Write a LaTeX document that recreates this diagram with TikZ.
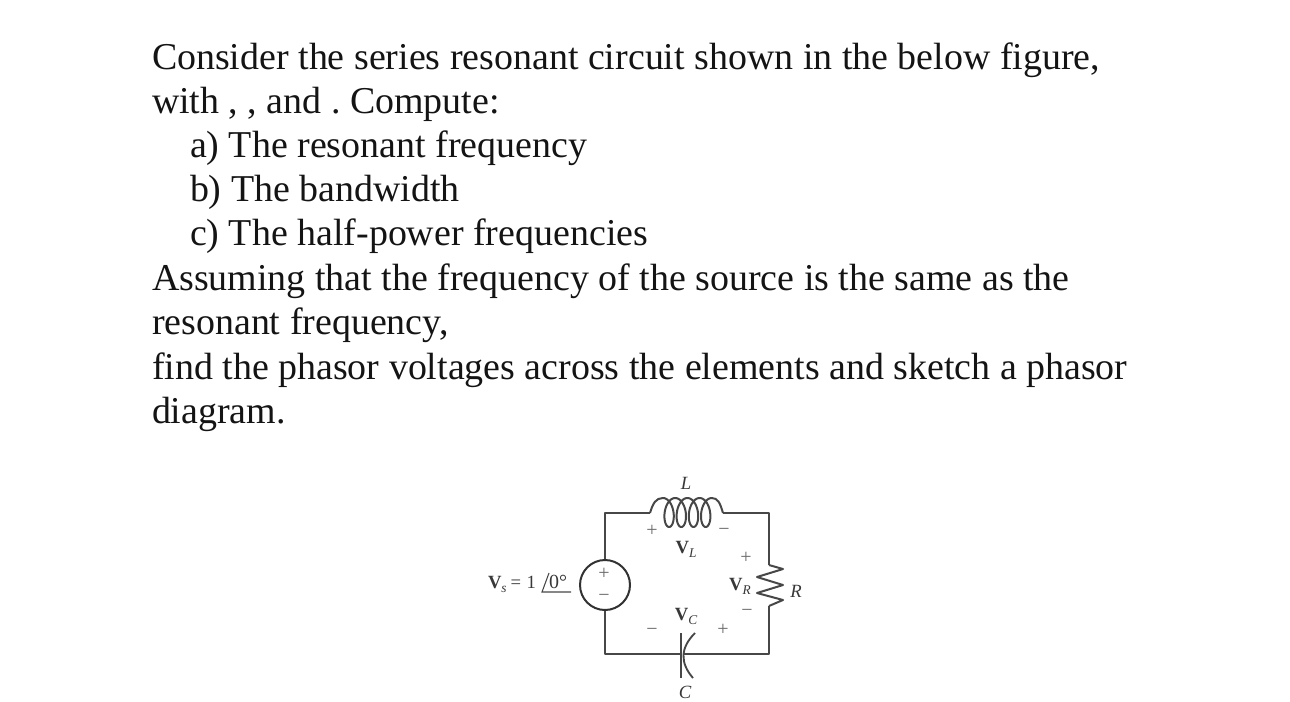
\documentclass[tikz,border=0pt]{standalone}
\usepackage{fontspec}
\setmainfont{Liberation Serif}
\usetikzlibrary{calc}
\definecolor{wire}{gray}{0.28}
\definecolor{lbl}{gray}{0.22}
\tikzset{
  x=0.75pt,y=-0.75pt,
  txt/.style={anchor=base west,inner sep=0pt,outer sep=0pt,font=\fontsize{28.45pt}{30pt}\selectfont,text=black!92},
  lab/.style={inner sep=0pt,outer sep=0pt,text=lbl,font=\fontsize{14pt}{16pt}\selectfont},
  sgn/.style={inner sep=0pt,outer sep=0pt,text=lbl!75,font=\fontsize{15pt}{16pt}\selectfont},
  wirel/.style={draw=wire,line width=1.1pt,line join=round},
  src/.style={circle,draw=wire!70!black,line width=1.5pt,minimum size=37.5pt,inner sep=0pt,fill=white}
}
\newcommand{\subsc}[1]{\raisebox{-3pt}{\fontsize{10pt}{11pt}\selectfont\itshape #1}}
\begin{document}
\frenchspacing
\begin{tikzpicture}
\useasboundingbox (0,0) rectangle (1290,701);
\node[txt] (t1) at (152,69) {Consider the series resonant circuit shown in the below figure,};
\node[txt] (t2) at (152,113) {with , , and . Compute:};
\node[txt] (t3) at (190,157) {a) The resonant frequency};
\node[txt] (t4) at (190,201) {b) The bandwidth};
\node[txt] (t5) at (190,245) {c) The half-power frequencies};
\node[txt] (t6) at (152,290) {Assuming that the frequency of the source is the same as the};
\node[txt] (t7) at (152,334) {resonant frequency,};
\node[txt] (t8) at (152,379) {find the phasor voltages across the elements and sketch a phasor};
\node[txt] (t9) at (152,423) {diagram.};
% circuit
\node[src] (vs) at (605,585) {};
\coordinate (tl) at (605,513);
\coordinate (tr) at (769,513);
\coordinate (bl) at (605,654);
\coordinate (br) at (769,654);
\coordinate (la) at (650,513);
\coordinate (lb) at (723,513);
\coordinate (ra) at (769,565);
\coordinate (rb) at (769,606);
\coordinate (ca) at (681,654);
\coordinate (cb) at (684,654);
\draw[wirel] (vs.north) -- (tl) -- (la);
\draw[wirel] (lb) -- (tr) -- (ra);
\draw[wirel] (rb) -- (br) -- (cb);
\draw[wirel] (ca) -- (bl) -- (vs.south);
% inductor
\draw[wirel,line width=1.5pt] (la) .. controls (653,503) and (656,498) .. (663,498)
  -- plot[domain=0:1440,samples=161] ({663+\x/360*12.2+7.5*sin(\x)},{512.5-14.5*cos(\x)})
  .. controls (718,498) and (720,503) .. (lb);
% resistor
\draw[wirel,line width=1.5pt] (ra) -- (783,569) -- (757,577) -- (783,585) -- (757,593) -- (783,600) -- (rb);
% capacitor
\draw[wire,line width=1.8pt] (681,633) -- (681,678);
\draw[wire,line width=1.4pt] (695,633) .. controls (680,648) and (680,663) .. (693,678);
% labels
\node[lab] (lL) at (686,483) {\itshape L};
\node[lab] (lC) at (685,692) {\itshape C};
\node[lab] (lR) at (796,591) {\itshape R};
\node[lab] (lVL) at (686,549) {\textbf{V}\subsc{L}};
\node[lab] (lVR) at (740,586) {\textbf{V}\subsc{R}};
\node[lab] (lVC) at (686,616) {\textbf{V}\subsc{C}};
\node[lab,anchor=base west] (lVs) at (488,588) {\textbf{V}\subsc{s}\hspace{3pt}=\hspace{4pt}1};
\node[lab,anchor=base west] (lang) at (549,588) {\fontsize{15pt}{16pt}\selectfont 0°};
\draw[wire,line width=0.8pt] (549,573) -- (542,592) -- (571,592);
\node[sgn] (p1) at (604,574) {+};
\node[sgn] (m1) at (604,598) {−};
\node[sgn] (p2) at (652,531) {+};
\node[sgn] (m2) at (724,532) {−};
\node[sgn] (p3) at (746,558) {+};
\node[sgn] (m3) at (747,613) {−};
\node[sgn] (m4) at (652,632) {−};
\node[sgn] (p4) at (723,630) {+};
\end{tikzpicture}
\end{document}
